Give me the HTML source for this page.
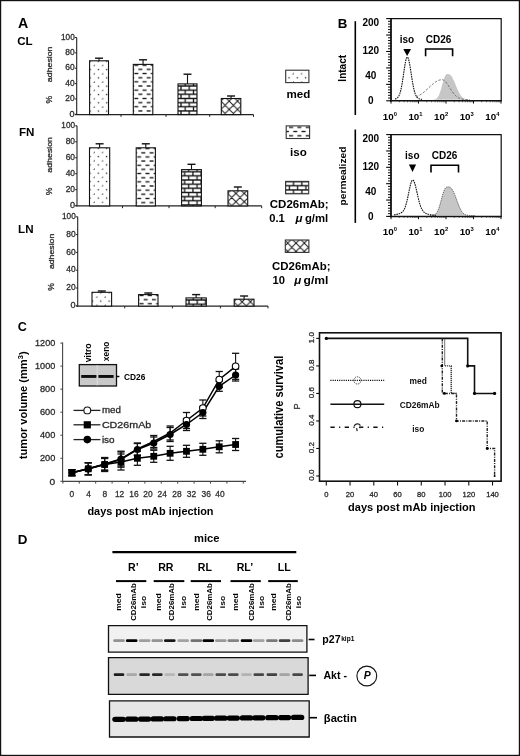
<!DOCTYPE html>
<html><head><meta charset="utf-8"><title>Figure</title><style>
html,body{margin:0;padding:0;background:#fff;width:520px;height:756px;overflow:hidden;}
svg{display:block;filter:blur(0.3px);}
text{font-family:"Liberation Sans", Arial, Helvetica, sans-serif;}
text.r{stroke:#333;stroke-width:0.3px;}
</style></head><body>
<svg width="520" height="756" viewBox="0 0 520 756">
<defs>
<filter id="blur1" x="-20%" y="-100%" width="140%" height="300%"><feGaussianBlur stdDeviation="0.65"/></filter>
<filter id="blur2" x="-10%" y="-10%" width="120%" height="120%"><feGaussianBlur stdDeviation="0.5"/></filter>
</defs>
<rect x="0" y="0" width="520" height="756" fill="#fff"/>
<text x="18" y="27.9" font-size="14.2" font-weight="bold">A</text>
<text x="17.2" y="45.3" font-size="11.6" font-weight="bold">CL</text>
<line x1="76.7" y1="37.5" x2="76.7" y2="114.9" stroke="#222" stroke-width="1.1" />
<line x1="75.2" y1="114.6" x2="253.5" y2="114.6" stroke="#222" stroke-width="1.1" />
<line x1="121" y1="114.6" x2="121" y2="116.9" stroke="#222" stroke-width="1" />
<line x1="166" y1="114.6" x2="166" y2="116.9" stroke="#222" stroke-width="1" />
<line x1="209.7" y1="114.6" x2="209.7" y2="116.9" stroke="#222" stroke-width="1" />
<line x1="253.5" y1="114.6" x2="253.5" y2="116.9" stroke="#222" stroke-width="1" />
<line x1="74.9" y1="114.3" x2="76.7" y2="114.3" stroke="#222" stroke-width="1" />
<text x="74.7" y="116.5" font-size="8.6" class="r" text-anchor="end" fill="#222" textLength="5.07" lengthAdjust="spacingAndGlyphs">0</text>
<line x1="74.9" y1="98.94" x2="76.7" y2="98.94" stroke="#222" stroke-width="1" />
<text x="74.7" y="101.14" font-size="8.6" class="r" text-anchor="end" fill="#222" textLength="9.37" lengthAdjust="spacingAndGlyphs">20</text>
<line x1="74.9" y1="83.58" x2="76.7" y2="83.58" stroke="#222" stroke-width="1" />
<text x="74.7" y="85.78" font-size="8.6" class="r" text-anchor="end" fill="#222" textLength="9.37" lengthAdjust="spacingAndGlyphs">40</text>
<line x1="74.9" y1="68.22" x2="76.7" y2="68.22" stroke="#222" stroke-width="1" />
<text x="74.7" y="70.42" font-size="8.6" class="r" text-anchor="end" fill="#222" textLength="9.37" lengthAdjust="spacingAndGlyphs">60</text>
<line x1="74.9" y1="52.86" x2="76.7" y2="52.86" stroke="#222" stroke-width="1" />
<text x="74.7" y="55.06" font-size="8.6" class="r" text-anchor="end" fill="#222" textLength="9.37" lengthAdjust="spacingAndGlyphs">80</text>
<line x1="74.9" y1="37.5" x2="76.7" y2="37.5" stroke="#222" stroke-width="1" />
<text x="74.7" y="39.7" font-size="8.6" class="r" text-anchor="end" fill="#222" textLength="13.67" lengthAdjust="spacingAndGlyphs">100</text>
<text x="51.6" y="64.3" font-size="7.2" class="r" text-anchor="middle" fill="#222" textLength="35.65" lengthAdjust="spacingAndGlyphs" transform="rotate(-90 51.6 64.3)">adhesion</text>
<text x="51.6" y="99.7" font-size="8.6" class="r" text-anchor="middle" fill="#222" transform="rotate(-90 51.6 99.7)">%</text>
<rect x="89.6" y="60.8" width="18.9" height="53.8" fill="#fff" stroke="none" stroke-width="1" />
<rect x="89.6" y="60.8" width="18.9" height="53.8" fill="url(#p0)" stroke="none" stroke-width="1" />
<rect x="89.6" y="60.8" width="18.9" height="53.8" fill="none" stroke="#111" stroke-width="1.1" />
<line x1="99.05" y1="60.8" x2="99.05" y2="58.2" stroke="#111" stroke-width="1.1" />
<line x1="95.05" y1="58.2" x2="103.05" y2="58.2" stroke="#111" stroke-width="1.4" />
<rect x="133.3" y="64.4" width="19.5" height="50.2" fill="#fff" stroke="none" stroke-width="1" />
<rect x="133.3" y="64.4" width="19.5" height="50.2" fill="url(#p1)" stroke="none" stroke-width="1" />
<rect x="133.3" y="64.4" width="19.5" height="50.2" fill="none" stroke="#111" stroke-width="1.1" />
<line x1="143.05" y1="64.4" x2="143.05" y2="59.8" stroke="#111" stroke-width="1.1" />
<line x1="139.05" y1="59.8" x2="147.05" y2="59.8" stroke="#111" stroke-width="1.4" />
<rect x="178" y="83.9" width="19" height="30.7" fill="#fff" stroke="none" stroke-width="1" />
<rect x="178" y="83.9" width="19" height="30.7" fill="url(#p2)" stroke="none" stroke-width="1" />
<rect x="178" y="83.9" width="19" height="30.7" fill="none" stroke="#111" stroke-width="1.1" />
<line x1="187.5" y1="83.9" x2="187.5" y2="74.2" stroke="#111" stroke-width="1.1" />
<line x1="183.5" y1="74.2" x2="191.5" y2="74.2" stroke="#111" stroke-width="1.4" />
<rect x="221.3" y="98.5" width="19.5" height="16.1" fill="#fff" stroke="none" stroke-width="1" />
<rect x="221.3" y="98.5" width="19.5" height="16.1" fill="url(#p3)" stroke="none" stroke-width="1" />
<rect x="221.3" y="98.5" width="19.5" height="16.1" fill="none" stroke="#111" stroke-width="1.1" />
<line x1="231.05" y1="98.5" x2="231.05" y2="96" stroke="#111" stroke-width="1.1" />
<line x1="227.05" y1="96" x2="235.05" y2="96" stroke="#111" stroke-width="1.4" />
<text x="19" y="135.5" font-size="11.6" font-weight="bold">FN</text>
<line x1="77" y1="125.85" x2="77" y2="206.2" stroke="#222" stroke-width="1.1" />
<line x1="75.5" y1="205.9" x2="261.7" y2="205.9" stroke="#222" stroke-width="1.1" />
<line x1="122.5" y1="205.9" x2="122.5" y2="208.2" stroke="#222" stroke-width="1" />
<line x1="169" y1="205.9" x2="169" y2="208.2" stroke="#222" stroke-width="1" />
<line x1="215.2" y1="205.9" x2="215.2" y2="208.2" stroke="#222" stroke-width="1" />
<line x1="261.7" y1="205.9" x2="261.7" y2="208.2" stroke="#222" stroke-width="1" />
<line x1="75.2" y1="205.6" x2="77" y2="205.6" stroke="#222" stroke-width="1" />
<text x="75" y="207.8" font-size="8.6" class="r" text-anchor="end" fill="#222" textLength="5.07" lengthAdjust="spacingAndGlyphs">0</text>
<line x1="75.2" y1="189.65" x2="77" y2="189.65" stroke="#222" stroke-width="1" />
<text x="75" y="191.85" font-size="8.6" class="r" text-anchor="end" fill="#222" textLength="9.37" lengthAdjust="spacingAndGlyphs">20</text>
<line x1="75.2" y1="173.7" x2="77" y2="173.7" stroke="#222" stroke-width="1" />
<text x="75" y="175.9" font-size="8.6" class="r" text-anchor="end" fill="#222" textLength="9.37" lengthAdjust="spacingAndGlyphs">40</text>
<line x1="75.2" y1="157.75" x2="77" y2="157.75" stroke="#222" stroke-width="1" />
<text x="75" y="159.95" font-size="8.6" class="r" text-anchor="end" fill="#222" textLength="9.37" lengthAdjust="spacingAndGlyphs">60</text>
<line x1="75.2" y1="141.8" x2="77" y2="141.8" stroke="#222" stroke-width="1" />
<text x="75" y="144" font-size="8.6" class="r" text-anchor="end" fill="#222" textLength="9.37" lengthAdjust="spacingAndGlyphs">80</text>
<line x1="75.2" y1="125.85" x2="77" y2="125.85" stroke="#222" stroke-width="1" />
<text x="75" y="128.05" font-size="8.6" class="r" text-anchor="end" fill="#222" textLength="13.67" lengthAdjust="spacingAndGlyphs">100</text>
<text x="51.6" y="154.8" font-size="7.2" class="r" text-anchor="middle" fill="#222" textLength="35.65" lengthAdjust="spacingAndGlyphs" transform="rotate(-90 51.6 154.8)">adhesion</text>
<text x="51.6" y="191.5" font-size="8.6" class="r" text-anchor="middle" fill="#222" transform="rotate(-90 51.6 191.5)">%</text>
<rect x="89.5" y="147.8" width="20.2" height="58.1" fill="#fff" stroke="none" stroke-width="1" />
<rect x="89.5" y="147.8" width="20.2" height="58.1" fill="url(#p4)" stroke="none" stroke-width="1" />
<rect x="89.5" y="147.8" width="20.2" height="58.1" fill="none" stroke="#111" stroke-width="1.1" />
<line x1="99.6" y1="147.8" x2="99.6" y2="143.8" stroke="#111" stroke-width="1.1" />
<line x1="95.6" y1="143.8" x2="103.6" y2="143.8" stroke="#111" stroke-width="1.4" />
<rect x="136.2" y="147.8" width="19.2" height="58.1" fill="#fff" stroke="none" stroke-width="1" />
<rect x="136.2" y="147.8" width="19.2" height="58.1" fill="url(#p5)" stroke="none" stroke-width="1" />
<rect x="136.2" y="147.8" width="19.2" height="58.1" fill="none" stroke="#111" stroke-width="1.1" />
<line x1="145.8" y1="147.8" x2="145.8" y2="143.8" stroke="#111" stroke-width="1.1" />
<line x1="141.8" y1="143.8" x2="149.8" y2="143.8" stroke="#111" stroke-width="1.4" />
<rect x="181.6" y="169.6" width="19.8" height="36.3" fill="#fff" stroke="none" stroke-width="1" />
<rect x="181.6" y="169.6" width="19.8" height="36.3" fill="url(#p6)" stroke="none" stroke-width="1" />
<rect x="181.6" y="169.6" width="19.8" height="36.3" fill="none" stroke="#111" stroke-width="1.1" />
<line x1="191.5" y1="169.6" x2="191.5" y2="164.3" stroke="#111" stroke-width="1.1" />
<line x1="187.5" y1="164.3" x2="195.5" y2="164.3" stroke="#111" stroke-width="1.4" />
<rect x="228" y="190.8" width="19.7" height="15.1" fill="#fff" stroke="none" stroke-width="1" />
<rect x="228" y="190.8" width="19.7" height="15.1" fill="url(#p7)" stroke="none" stroke-width="1" />
<rect x="228" y="190.8" width="19.7" height="15.1" fill="none" stroke="#111" stroke-width="1.1" />
<line x1="237.85" y1="190.8" x2="237.85" y2="187" stroke="#111" stroke-width="1.1" />
<line x1="233.85" y1="187" x2="241.85" y2="187" stroke="#111" stroke-width="1.4" />
<text x="18.1" y="232.8" font-size="11.6" font-weight="bold">LN</text>
<line x1="77.7" y1="216.8" x2="77.7" y2="306.4" stroke="#222" stroke-width="1.1" />
<line x1="76.2" y1="306.1" x2="268" y2="306.1" stroke="#222" stroke-width="1.1" />
<line x1="124.7" y1="306.1" x2="124.7" y2="308.4" stroke="#222" stroke-width="1" />
<line x1="172.4" y1="306.1" x2="172.4" y2="308.4" stroke="#222" stroke-width="1" />
<line x1="220.4" y1="306.1" x2="220.4" y2="308.4" stroke="#222" stroke-width="1" />
<line x1="268" y1="306.1" x2="268" y2="308.4" stroke="#222" stroke-width="1" />
<line x1="75.9" y1="305.8" x2="77.7" y2="305.8" stroke="#222" stroke-width="1" />
<text x="75.7" y="308" font-size="8.6" class="r" text-anchor="end" fill="#222" textLength="5.07" lengthAdjust="spacingAndGlyphs">0</text>
<line x1="75.9" y1="288" x2="77.7" y2="288" stroke="#222" stroke-width="1" />
<text x="75.7" y="290.2" font-size="8.6" class="r" text-anchor="end" fill="#222" textLength="9.37" lengthAdjust="spacingAndGlyphs">20</text>
<line x1="75.9" y1="270.2" x2="77.7" y2="270.2" stroke="#222" stroke-width="1" />
<text x="75.7" y="272.4" font-size="8.6" class="r" text-anchor="end" fill="#222" textLength="9.37" lengthAdjust="spacingAndGlyphs">40</text>
<line x1="75.9" y1="252.4" x2="77.7" y2="252.4" stroke="#222" stroke-width="1" />
<text x="75.7" y="254.6" font-size="8.6" class="r" text-anchor="end" fill="#222" textLength="9.37" lengthAdjust="spacingAndGlyphs">60</text>
<line x1="75.9" y1="234.6" x2="77.7" y2="234.6" stroke="#222" stroke-width="1" />
<text x="75.7" y="236.8" font-size="8.6" class="r" text-anchor="end" fill="#222" textLength="9.37" lengthAdjust="spacingAndGlyphs">80</text>
<line x1="75.9" y1="216.8" x2="77.7" y2="216.8" stroke="#222" stroke-width="1" />
<text x="75.7" y="219" font-size="8.6" class="r" text-anchor="end" fill="#222" textLength="13.67" lengthAdjust="spacingAndGlyphs">100</text>
<text x="53.9" y="251.4" font-size="7.8" class="r" text-anchor="middle" fill="#222" textLength="35.3" lengthAdjust="spacingAndGlyphs" transform="rotate(-90 53.9 251.4)">adhesion</text>
<text x="53.9" y="286.8" font-size="8.6" class="r" text-anchor="middle" fill="#222" transform="rotate(-90 53.9 286.8)">%</text>
<rect x="92" y="292.3" width="19.6" height="13.8" fill="#fff" stroke="none" stroke-width="1" />
<rect x="92" y="292.3" width="19.6" height="13.8" fill="url(#p8)" stroke="none" stroke-width="1" />
<rect x="92" y="292.3" width="19.6" height="13.8" fill="none" stroke="#111" stroke-width="1.1" />
<line x1="101.8" y1="292.3" x2="101.8" y2="291" stroke="#111" stroke-width="1.1" />
<line x1="97.8" y1="291" x2="105.8" y2="291" stroke="#111" stroke-width="1.4" />
<rect x="138.6" y="294.6" width="19.4" height="11.5" fill="#fff" stroke="none" stroke-width="1" />
<rect x="138.6" y="294.6" width="19.4" height="11.5" fill="url(#p9)" stroke="none" stroke-width="1" />
<rect x="138.6" y="294.6" width="19.4" height="11.5" fill="none" stroke="#111" stroke-width="1.1" />
<line x1="148.3" y1="294.6" x2="148.3" y2="293" stroke="#111" stroke-width="1.1" />
<line x1="144.3" y1="293" x2="152.3" y2="293" stroke="#111" stroke-width="1.4" />
<rect x="186" y="297.9" width="20.3" height="8.2" fill="#fff" stroke="none" stroke-width="1" />
<rect x="186" y="297.9" width="20.3" height="8.2" fill="url(#p10)" stroke="none" stroke-width="1" />
<rect x="186" y="297.9" width="20.3" height="8.2" fill="none" stroke="#111" stroke-width="1.1" />
<line x1="196.15" y1="297.9" x2="196.15" y2="294.6" stroke="#111" stroke-width="1.1" />
<line x1="192.15" y1="294.6" x2="200.15" y2="294.6" stroke="#111" stroke-width="1.4" />
<rect x="234.2" y="299.2" width="19.8" height="6.9" fill="#fff" stroke="none" stroke-width="1" />
<rect x="234.2" y="299.2" width="19.8" height="6.9" fill="url(#p11)" stroke="none" stroke-width="1" />
<rect x="234.2" y="299.2" width="19.8" height="6.9" fill="none" stroke="#111" stroke-width="1.1" />
<line x1="244.1" y1="299.2" x2="244.1" y2="296" stroke="#111" stroke-width="1.1" />
<line x1="240.1" y1="296" x2="248.1" y2="296" stroke="#111" stroke-width="1.4" />
<rect x="285.7" y="70.2" width="23.2" height="12.4" fill="#fff" stroke="none" stroke-width="1" />
<rect x="285.7" y="70.2" width="23.2" height="12.4" fill="url(#p12)" stroke="none" stroke-width="1" />
<rect x="285.7" y="70.2" width="23.2" height="12.4" fill="none" stroke="#333" stroke-width="1.1" />
<rect x="286.2" y="125.9" width="23.4" height="12.6" fill="#fff" stroke="none" stroke-width="1" />
<rect x="286.2" y="125.9" width="23.4" height="12.6" fill="url(#p13)" stroke="none" stroke-width="1" />
<rect x="286.2" y="125.9" width="23.4" height="12.6" fill="none" stroke="#333" stroke-width="1.1" />
<rect x="285.6" y="181.4" width="23.1" height="12.4" fill="#fff" stroke="none" stroke-width="1" />
<rect x="285.6" y="181.4" width="23.1" height="12.4" fill="url(#p14)" stroke="none" stroke-width="1" />
<rect x="285.6" y="181.4" width="23.1" height="12.4" fill="none" stroke="#333" stroke-width="1.1" />
<rect x="285.3" y="240" width="23.6" height="12.4" fill="#fff" stroke="none" stroke-width="1" />
<rect x="285.3" y="240" width="23.6" height="12.4" fill="url(#p15)" stroke="none" stroke-width="1" />
<rect x="285.3" y="240" width="23.6" height="12.4" fill="none" stroke="#333" stroke-width="1.1" />
<text x="298.4" y="97.9" font-size="11.6" font-weight="bold" text-anchor="middle">med</text>
<text x="298.5" y="155.8" font-size="11.6" font-weight="bold" text-anchor="middle">iso</text>
<text x="269.8" y="208" font-size="11.2" font-weight="bold" textLength="58.81" lengthAdjust="spacingAndGlyphs">CD26mAb;</text>
<text x="269.2" y="221.5" font-size="11.2" font-weight="bold">0.1</text>
<text x="295.6" y="221.5" font-size="11.6" font-weight="bold" font-style="italic">μ</text>
<text x="304.9" y="221.5" font-size="11.2" font-weight="bold" textLength="23.31" lengthAdjust="spacingAndGlyphs">g/ml</text>
<text x="272.1" y="270" font-size="11.2" font-weight="bold" textLength="58.41" lengthAdjust="spacingAndGlyphs">CD26mAb;</text>
<text x="272.6" y="283.5" font-size="11.2" font-weight="bold">10</text>
<text x="294.3" y="283.5" font-size="11.6" font-weight="bold" font-style="italic">μ</text>
<text x="303.6" y="283.5" font-size="11.2" font-weight="bold" textLength="24.81" lengthAdjust="spacingAndGlyphs">g/ml</text>
<text x="337.7" y="27.5" font-size="13.3" font-weight="bold">B</text>
<path d="M430,99.7 L430,99.7 L430.5,99.7 L431,99.69 L431.5,99.69 L432,99.68 L432.5,99.66 L433,99.64 L433.5,99.6 L434,99.53 L434.5,99.44 L435,99.31 L435.5,99.13 L436,98.88 L436.5,98.54 L437,98.1 L437.5,97.53 L438,96.81 L438.5,95.94 L439,94.91 L439.5,93.7 L440,92.32 L440.5,90.8 L441,89.14 L441.5,87.39 L442,85.59 L442.5,83.78 L443,82.02 L443.5,80.35 L444,78.82 L444.5,77.47 L445,76.33 L445.5,75.42 L446,74.75 L446.5,74.31 L447,74.07 L447.5,74 L448,74.01 L448.5,74.07 L449,74.21 L449.5,74.44 L450,74.76 L450.5,75.19 L451,75.73 L451.5,76.37 L452,77.11 L452.5,77.96 L453,78.89 L453.5,79.91 L454,80.99 L454.5,82.13 L455,83.31 L455.5,84.51 L456,85.73 L456.5,86.94 L457,88.14 L457.5,89.3 L458,90.41 L458.5,91.47 L459,92.47 L459.5,93.4 L460,94.26 L460.5,95.04 L461,95.74 L461.5,96.36 L462,96.92 L462.5,97.4 L463,97.81 L463.5,98.17 L464,98.47 L464.5,98.72 L465,98.92 L465.5,99.09 L466,99.23 L466.5,99.34 L467,99.43 L467.5,99.49 L468,99.55 L468.5,99.59 L469,99.62 L469.5,99.64 L470,99.66 L470.5,99.67 L471,99.68 L471.5,99.69 L472,99.69 L472.5,99.69 L473,99.7 L473.5,99.7 L474,99.7 L474.5,99.7 L475,99.7 L475,99.7 Z" fill="#c6c6c6" stroke="none"/>
<polyline points="416,96.99 416.6,96.73 417.2,96.46 417.8,96.16 418.4,95.85 419,95.52 419.6,95.17 420.2,94.8 420.8,94.41 421.4,94 422,93.58 422.6,93.13 423.2,92.67 423.8,92.19 424.4,91.7 425,91.19 425.6,90.68 426.2,90.14 426.8,89.6 427.4,89.06 428,88.5 428.6,87.94 429.2,87.38 429.8,86.82 430.4,86.27 431,85.72 431.6,85.18 432.2,84.65 432.8,84.13 433.4,83.63 434,83.15 434.6,82.69 435.2,82.26 435.8,81.85 436.4,81.47 437,81.13 437.6,80.81 438.2,80.54 438.8,80.3 439.4,80.1 440,79.94 440.6,79.82 441.2,79.74 441.8,79.7 442.4,79.73 443,79.87 443.6,80.14 444.2,80.52 444.8,81.01 445.4,81.6 446,82.29 446.6,83.05 447.2,83.87 447.8,84.75 448.4,85.67 449,86.61 449.6,87.57 450.2,88.53 450.8,89.47 451.4,90.39 452,91.28 452.6,92.14 453.2,92.95 453.8,93.71 454.4,94.42 455,95.07 455.6,95.67 456.2,96.21 456.8,96.7 457.4,97.13 458,97.52 458.6,97.86 459.2,98.16 459.8,98.41 460.4,98.63 461,98.82 461.6,98.98 462.2,99.12 462.8,99.23 463.4,99.32 464,99.4 464.6,99.46 465.2,99.51 465.8,99.55 466.4,99.58 467,99.61 467.6,99.63 468.2,99.65 468.8,99.66 469.4,99.67 470,99.68" fill="none" stroke="#666" stroke-width="1" stroke-dasharray="2.4,1.6"/>
<polyline points="395,99.04 395.3,98.96 395.6,98.86 395.9,98.76 396.2,98.63 396.5,98.48 396.8,98.3 397.1,98.09 397.4,97.85 397.7,97.56 398,97.22 398.3,96.82 398.6,96.36 398.9,95.82 399.2,95.21 399.5,94.5 399.8,93.69 400.1,92.77 400.4,91.75 400.7,90.6 401,89.34 401.3,87.94 401.6,86.43 401.9,84.8 402.2,83.06 402.5,81.22 402.8,79.29 403.1,77.29 403.4,75.24 403.7,73.17 404,71.11 404.3,69.07 404.6,67.1 404.9,65.23 405.2,63.48 405.5,61.89 405.8,60.49 406.1,59.3 406.4,58.35 406.7,57.66 407,57.24 407.3,57.1 407.6,57.23 407.9,57.61 408.2,58.23 408.5,59.08 408.8,60.16 409.1,61.43 409.4,62.88 409.7,64.49 410,66.22 410.3,68.05 410.6,69.95 410.9,71.9 411.2,73.86 411.5,75.82 411.8,77.76 412.1,79.65 412.4,81.47 412.7,83.21 413,84.86 413.3,86.42 413.6,87.86 413.9,89.2 414.2,90.43 414.5,91.54 414.8,92.55 415.1,93.45 415.4,94.26 415.7,94.98 416,95.61 416.3,96.16 416.6,96.64 416.9,97.06 417.2,97.41 417.5,97.72 417.8,97.99 418.1,98.22 418.4,98.41 418.7,98.58 419,98.72 419.3,98.84 419.6,98.94 419.9,99.03 420.2,99.11 420.5,99.17 420.8,99.23 421.1,99.28 421.4,99.32 421.7,99.36 422,99.4" fill="none" stroke="#111" stroke-width="1.1" stroke-dasharray="1.6,0.8"/>
<path d="M391,18.6 H501.2 V100.8" fill="none" stroke="#111" stroke-width="1.2"/>
<line x1="391" y1="18" x2="391" y2="101.6" stroke="#111" stroke-width="1.8" />
<line x1="390.1" y1="100.8" x2="501.8" y2="100.8" stroke="#111" stroke-width="1.5" />
<line x1="386.2" y1="100.8" x2="391" y2="100.8" stroke="#000" stroke-width="1.1" />
<line x1="388" y1="98.06" x2="391" y2="98.06" stroke="#111" stroke-width="1" />
<line x1="388" y1="95.32" x2="391" y2="95.32" stroke="#111" stroke-width="1" />
<line x1="388" y1="92.58" x2="391" y2="92.58" stroke="#111" stroke-width="1" />
<line x1="388" y1="89.84" x2="391" y2="89.84" stroke="#111" stroke-width="1" />
<line x1="388" y1="87.1" x2="391" y2="87.1" stroke="#111" stroke-width="1" />
<line x1="386.2" y1="84.36" x2="391" y2="84.36" stroke="#000" stroke-width="1.1" />
<line x1="388" y1="81.62" x2="391" y2="81.62" stroke="#111" stroke-width="1" />
<line x1="388" y1="78.88" x2="391" y2="78.88" stroke="#111" stroke-width="1" />
<line x1="388" y1="76.14" x2="391" y2="76.14" stroke="#111" stroke-width="1" />
<line x1="388" y1="73.4" x2="391" y2="73.4" stroke="#111" stroke-width="1" />
<line x1="388" y1="70.66" x2="391" y2="70.66" stroke="#111" stroke-width="1" />
<line x1="386.2" y1="67.92" x2="391" y2="67.92" stroke="#000" stroke-width="1.1" />
<line x1="388" y1="65.18" x2="391" y2="65.18" stroke="#111" stroke-width="1" />
<line x1="388" y1="62.44" x2="391" y2="62.44" stroke="#111" stroke-width="1" />
<line x1="388" y1="59.7" x2="391" y2="59.7" stroke="#111" stroke-width="1" />
<line x1="388" y1="56.96" x2="391" y2="56.96" stroke="#111" stroke-width="1" />
<line x1="388" y1="54.22" x2="391" y2="54.22" stroke="#111" stroke-width="1" />
<line x1="386.2" y1="51.48" x2="391" y2="51.48" stroke="#000" stroke-width="1.1" />
<line x1="388" y1="48.74" x2="391" y2="48.74" stroke="#111" stroke-width="1" />
<line x1="388" y1="46" x2="391" y2="46" stroke="#111" stroke-width="1" />
<line x1="388" y1="43.26" x2="391" y2="43.26" stroke="#111" stroke-width="1" />
<line x1="388" y1="40.52" x2="391" y2="40.52" stroke="#111" stroke-width="1" />
<line x1="388" y1="37.78" x2="391" y2="37.78" stroke="#111" stroke-width="1" />
<line x1="386.2" y1="35.04" x2="391" y2="35.04" stroke="#000" stroke-width="1.1" />
<line x1="388" y1="32.3" x2="391" y2="32.3" stroke="#111" stroke-width="1" />
<line x1="388" y1="29.56" x2="391" y2="29.56" stroke="#111" stroke-width="1" />
<line x1="388" y1="26.82" x2="391" y2="26.82" stroke="#111" stroke-width="1" />
<line x1="388" y1="24.08" x2="391" y2="24.08" stroke="#111" stroke-width="1" />
<line x1="388" y1="21.34" x2="391" y2="21.34" stroke="#111" stroke-width="1" />
<line x1="386.2" y1="18.6" x2="391" y2="18.6" stroke="#000" stroke-width="1.1" />
<line x1="399.28" y1="100.8" x2="399.28" y2="102.3" stroke="#222" stroke-width="0.7" />
<line x1="404.12" y1="100.8" x2="404.12" y2="102.3" stroke="#222" stroke-width="0.7" />
<line x1="407.56" y1="100.8" x2="407.56" y2="102.3" stroke="#222" stroke-width="0.7" />
<line x1="410.22" y1="100.8" x2="410.22" y2="102.3" stroke="#222" stroke-width="0.7" />
<line x1="412.4" y1="100.8" x2="412.4" y2="102.3" stroke="#222" stroke-width="0.7" />
<line x1="414.24" y1="100.8" x2="414.24" y2="102.3" stroke="#222" stroke-width="0.7" />
<line x1="415.83" y1="100.8" x2="415.83" y2="102.3" stroke="#222" stroke-width="0.7" />
<line x1="417.24" y1="100.8" x2="417.24" y2="102.3" stroke="#222" stroke-width="0.7" />
<line x1="426.78" y1="100.8" x2="426.78" y2="102.3" stroke="#222" stroke-width="0.7" />
<line x1="431.62" y1="100.8" x2="431.62" y2="102.3" stroke="#222" stroke-width="0.7" />
<line x1="435.06" y1="100.8" x2="435.06" y2="102.3" stroke="#222" stroke-width="0.7" />
<line x1="437.72" y1="100.8" x2="437.72" y2="102.3" stroke="#222" stroke-width="0.7" />
<line x1="439.9" y1="100.8" x2="439.9" y2="102.3" stroke="#222" stroke-width="0.7" />
<line x1="441.74" y1="100.8" x2="441.74" y2="102.3" stroke="#222" stroke-width="0.7" />
<line x1="443.33" y1="100.8" x2="443.33" y2="102.3" stroke="#222" stroke-width="0.7" />
<line x1="444.74" y1="100.8" x2="444.74" y2="102.3" stroke="#222" stroke-width="0.7" />
<line x1="454.28" y1="100.8" x2="454.28" y2="102.3" stroke="#222" stroke-width="0.7" />
<line x1="459.12" y1="100.8" x2="459.12" y2="102.3" stroke="#222" stroke-width="0.7" />
<line x1="462.56" y1="100.8" x2="462.56" y2="102.3" stroke="#222" stroke-width="0.7" />
<line x1="465.22" y1="100.8" x2="465.22" y2="102.3" stroke="#222" stroke-width="0.7" />
<line x1="467.4" y1="100.8" x2="467.4" y2="102.3" stroke="#222" stroke-width="0.7" />
<line x1="469.24" y1="100.8" x2="469.24" y2="102.3" stroke="#222" stroke-width="0.7" />
<line x1="470.83" y1="100.8" x2="470.83" y2="102.3" stroke="#222" stroke-width="0.7" />
<line x1="472.24" y1="100.8" x2="472.24" y2="102.3" stroke="#222" stroke-width="0.7" />
<line x1="481.78" y1="100.8" x2="481.78" y2="102.3" stroke="#222" stroke-width="0.7" />
<line x1="486.62" y1="100.8" x2="486.62" y2="102.3" stroke="#222" stroke-width="0.7" />
<line x1="490.06" y1="100.8" x2="490.06" y2="102.3" stroke="#222" stroke-width="0.7" />
<line x1="492.72" y1="100.8" x2="492.72" y2="102.3" stroke="#222" stroke-width="0.7" />
<line x1="494.9" y1="100.8" x2="494.9" y2="102.3" stroke="#222" stroke-width="0.7" />
<line x1="496.74" y1="100.8" x2="496.74" y2="102.3" stroke="#222" stroke-width="0.7" />
<line x1="498.33" y1="100.8" x2="498.33" y2="102.3" stroke="#222" stroke-width="0.7" />
<line x1="499.74" y1="100.8" x2="499.74" y2="102.3" stroke="#222" stroke-width="0.7" />
<line x1="391" y1="100.8" x2="391" y2="103.6" stroke="#111" stroke-width="1" />
<line x1="418.5" y1="100.8" x2="418.5" y2="103.6" stroke="#111" stroke-width="1" />
<line x1="446" y1="100.8" x2="446" y2="103.6" stroke="#111" stroke-width="1" />
<line x1="473.5" y1="100.8" x2="473.5" y2="103.6" stroke="#111" stroke-width="1" />
<line x1="501" y1="100.8" x2="501" y2="103.6" stroke="#111" stroke-width="1" />
<text x="407" y="43.2" font-size="10" font-weight="bold" text-anchor="middle">iso</text>
<polygon points="403.3,49 411.1,49 407.1,55.9" fill="#000"/>
<text x="438.6" y="42.9" font-size="10" font-weight="bold" text-anchor="middle">CD26</text>
<polyline points="425.6,56.3 425.6,49 452.6,49 452.6,56.3" fill="none" stroke="#000" stroke-width="1.6" />
<path d="M430,215.5 L430,215.49 L430.5,215.49 L431,215.48 L431.5,215.46 L432,215.43 L432.5,215.39 L433,215.32 L433.5,215.23 L434,215.09 L434.5,214.89 L435,214.62 L435.5,214.26 L436,213.8 L436.5,213.2 L437,212.46 L437.5,211.55 L438,210.48 L438.5,209.24 L439,207.82 L439.5,206.26 L440,204.56 L440.5,202.77 L441,200.91 L441.5,199.03 L442,197.17 L442.5,195.39 L443,193.71 L443.5,192.19 L444,190.84 L444.5,189.69 L445,188.75 L445.5,188.03 L446,187.5 L446.5,187.16 L447,186.97 L447.5,186.91 L448,186.9 L448.5,186.92 L449,187 L449.5,187.14 L450,187.36 L450.5,187.68 L451,188.1 L451.5,188.63 L452,189.28 L452.5,190.04 L453,190.92 L453.5,191.9 L454,192.98 L454.5,194.16 L455,195.4 L455.5,196.71 L456,198.06 L456.5,199.44 L457,200.83 L457.5,202.2 L458,203.55 L458.5,204.86 L459,206.1 L459.5,207.28 L460,208.38 L460.5,209.39 L461,210.31 L461.5,211.13 L462,211.87 L462.5,212.51 L463,213.06 L463.5,213.54 L464,213.94 L464.5,214.27 L465,214.54 L465.5,214.76 L466,214.94 L466.5,215.08 L467,215.19 L467.5,215.27 L468,215.34 L468.5,215.38 L469,215.42 L469.5,215.44 L470,215.46 L470.5,215.47 L471,215.48 L471.5,215.49 L472,215.49 L472.5,215.5 L473,215.5 L473.5,215.5 L474,215.5 L474.5,215.5 L475,215.5 L475,215.5 Z" fill="#c6c6c6" stroke="none"/>
<polyline points="430,215.49 430.5,215.49 431,215.48 431.5,215.46 432,215.43 432.5,215.39 433,215.32 433.5,215.23 434,215.09 434.5,214.89 435,214.62 435.5,214.26 436,213.8 436.5,213.2 437,212.46 437.5,211.55 438,210.48 438.5,209.24 439,207.82 439.5,206.26 440,204.56 440.5,202.77 441,200.91 441.5,199.03 442,197.17 442.5,195.39 443,193.71 443.5,192.19 444,190.84 444.5,189.69 445,188.75 445.5,188.03 446,187.5 446.5,187.16 447,186.97 447.5,186.91 448,186.9 448.5,186.92 449,187 449.5,187.14 450,187.36 450.5,187.68 451,188.1 451.5,188.63 452,189.28 452.5,190.04 453,190.92 453.5,191.9 454,192.98 454.5,194.16 455,195.4 455.5,196.71 456,198.06 456.5,199.44 457,200.83 457.5,202.2 458,203.55 458.5,204.86 459,206.1 459.5,207.28 460,208.38 460.5,209.39 461,210.31 461.5,211.13 462,211.87 462.5,212.51 463,213.06 463.5,213.54 464,213.94 464.5,214.27 465,214.54 465.5,214.76 466,214.94 466.5,215.08 467,215.19 467.5,215.27 468,215.34 468.5,215.38 469,215.42 469.5,215.44 470,215.46 470.5,215.47 471,215.48 471.5,215.49 472,215.49 472.5,215.5 473,215.5 473.5,215.5 474,215.5 474.5,215.5 475,215.5" fill="none" stroke="#444" stroke-width="0.9" stroke-dasharray="1.2,1"/>
<polyline points="394,214.88 394.47,214.82 394.93,214.74 395.4,214.66 395.87,214.57 396.33,214.48 396.8,214.37 397.27,214.26 397.73,214.14 398.2,214.02 398.67,213.87 399.13,213.72 399.6,213.55 400.07,213.35 400.53,213.13 401,212.88 401.47,212.58 401.93,212.23 402.4,211.81 402.87,211.31 403.33,210.71 403.8,210 404.27,209.15 404.73,208.16 405.2,206.99 405.67,205.64 406.13,204.11 406.6,202.39 407.07,200.49 407.53,198.44 408,196.26 408.47,193.99 408.93,191.69 409.4,189.43 409.87,187.26 410.33,185.26 410.8,183.49 411.27,182.04 411.73,180.94 412.2,180.26 412.67,180 413.13,180.16 413.6,180.68 414.07,181.55 414.53,182.73 415,184.19 415.47,185.89 415.93,187.76 416.4,189.77 416.87,191.85 417.33,193.95 417.8,196.03 418.27,198.05 418.73,199.97 419.2,201.77 419.67,203.43 420.13,204.94 420.6,206.3 421.07,207.5 421.53,208.55 422,209.47 422.47,210.26 422.93,210.93 423.4,211.51 423.87,212 424.33,212.41 424.8,212.77 425.27,213.07 425.73,213.33 426.2,213.55 426.67,213.75 427.13,213.92 427.6,214.07 428.07,214.21 428.53,214.33 429,214.44 429.47,214.55 429.93,214.64 430.4,214.72 430.87,214.8 431.33,214.87 431.8,214.94 432.27,215 432.73,215.05 433.2,215.1 433.67,215.15 434.13,215.19 434.6,215.22 435.07,215.26 435.53,215.29 436,215.31" fill="none" stroke="#111" stroke-width="1.1" stroke-dasharray="1.6,0.8"/>
<path d="M391,134.6 H501.2 V216.4" fill="none" stroke="#111" stroke-width="1.2"/>
<line x1="391" y1="134" x2="391" y2="217.2" stroke="#111" stroke-width="1.8" />
<line x1="390.1" y1="216.4" x2="501.8" y2="216.4" stroke="#111" stroke-width="1.5" />
<line x1="386.2" y1="216.4" x2="391" y2="216.4" stroke="#000" stroke-width="1.1" />
<line x1="388" y1="213.67" x2="391" y2="213.67" stroke="#111" stroke-width="1" />
<line x1="388" y1="210.95" x2="391" y2="210.95" stroke="#111" stroke-width="1" />
<line x1="388" y1="208.22" x2="391" y2="208.22" stroke="#111" stroke-width="1" />
<line x1="388" y1="205.49" x2="391" y2="205.49" stroke="#111" stroke-width="1" />
<line x1="388" y1="202.77" x2="391" y2="202.77" stroke="#111" stroke-width="1" />
<line x1="386.2" y1="200.04" x2="391" y2="200.04" stroke="#000" stroke-width="1.1" />
<line x1="388" y1="197.31" x2="391" y2="197.31" stroke="#111" stroke-width="1" />
<line x1="388" y1="194.59" x2="391" y2="194.59" stroke="#111" stroke-width="1" />
<line x1="388" y1="191.86" x2="391" y2="191.86" stroke="#111" stroke-width="1" />
<line x1="388" y1="189.13" x2="391" y2="189.13" stroke="#111" stroke-width="1" />
<line x1="388" y1="186.41" x2="391" y2="186.41" stroke="#111" stroke-width="1" />
<line x1="386.2" y1="183.68" x2="391" y2="183.68" stroke="#000" stroke-width="1.1" />
<line x1="388" y1="180.95" x2="391" y2="180.95" stroke="#111" stroke-width="1" />
<line x1="388" y1="178.23" x2="391" y2="178.23" stroke="#111" stroke-width="1" />
<line x1="388" y1="175.5" x2="391" y2="175.5" stroke="#111" stroke-width="1" />
<line x1="388" y1="172.77" x2="391" y2="172.77" stroke="#111" stroke-width="1" />
<line x1="388" y1="170.05" x2="391" y2="170.05" stroke="#111" stroke-width="1" />
<line x1="386.2" y1="167.32" x2="391" y2="167.32" stroke="#000" stroke-width="1.1" />
<line x1="388" y1="164.59" x2="391" y2="164.59" stroke="#111" stroke-width="1" />
<line x1="388" y1="161.87" x2="391" y2="161.87" stroke="#111" stroke-width="1" />
<line x1="388" y1="159.14" x2="391" y2="159.14" stroke="#111" stroke-width="1" />
<line x1="388" y1="156.41" x2="391" y2="156.41" stroke="#111" stroke-width="1" />
<line x1="388" y1="153.69" x2="391" y2="153.69" stroke="#111" stroke-width="1" />
<line x1="386.2" y1="150.96" x2="391" y2="150.96" stroke="#000" stroke-width="1.1" />
<line x1="388" y1="148.23" x2="391" y2="148.23" stroke="#111" stroke-width="1" />
<line x1="388" y1="145.51" x2="391" y2="145.51" stroke="#111" stroke-width="1" />
<line x1="388" y1="142.78" x2="391" y2="142.78" stroke="#111" stroke-width="1" />
<line x1="388" y1="140.05" x2="391" y2="140.05" stroke="#111" stroke-width="1" />
<line x1="388" y1="137.33" x2="391" y2="137.33" stroke="#111" stroke-width="1" />
<line x1="386.2" y1="134.6" x2="391" y2="134.6" stroke="#000" stroke-width="1.1" />
<line x1="399.28" y1="216.4" x2="399.28" y2="217.9" stroke="#222" stroke-width="0.7" />
<line x1="404.12" y1="216.4" x2="404.12" y2="217.9" stroke="#222" stroke-width="0.7" />
<line x1="407.56" y1="216.4" x2="407.56" y2="217.9" stroke="#222" stroke-width="0.7" />
<line x1="410.22" y1="216.4" x2="410.22" y2="217.9" stroke="#222" stroke-width="0.7" />
<line x1="412.4" y1="216.4" x2="412.4" y2="217.9" stroke="#222" stroke-width="0.7" />
<line x1="414.24" y1="216.4" x2="414.24" y2="217.9" stroke="#222" stroke-width="0.7" />
<line x1="415.83" y1="216.4" x2="415.83" y2="217.9" stroke="#222" stroke-width="0.7" />
<line x1="417.24" y1="216.4" x2="417.24" y2="217.9" stroke="#222" stroke-width="0.7" />
<line x1="426.78" y1="216.4" x2="426.78" y2="217.9" stroke="#222" stroke-width="0.7" />
<line x1="431.62" y1="216.4" x2="431.62" y2="217.9" stroke="#222" stroke-width="0.7" />
<line x1="435.06" y1="216.4" x2="435.06" y2="217.9" stroke="#222" stroke-width="0.7" />
<line x1="437.72" y1="216.4" x2="437.72" y2="217.9" stroke="#222" stroke-width="0.7" />
<line x1="439.9" y1="216.4" x2="439.9" y2="217.9" stroke="#222" stroke-width="0.7" />
<line x1="441.74" y1="216.4" x2="441.74" y2="217.9" stroke="#222" stroke-width="0.7" />
<line x1="443.33" y1="216.4" x2="443.33" y2="217.9" stroke="#222" stroke-width="0.7" />
<line x1="444.74" y1="216.4" x2="444.74" y2="217.9" stroke="#222" stroke-width="0.7" />
<line x1="454.28" y1="216.4" x2="454.28" y2="217.9" stroke="#222" stroke-width="0.7" />
<line x1="459.12" y1="216.4" x2="459.12" y2="217.9" stroke="#222" stroke-width="0.7" />
<line x1="462.56" y1="216.4" x2="462.56" y2="217.9" stroke="#222" stroke-width="0.7" />
<line x1="465.22" y1="216.4" x2="465.22" y2="217.9" stroke="#222" stroke-width="0.7" />
<line x1="467.4" y1="216.4" x2="467.4" y2="217.9" stroke="#222" stroke-width="0.7" />
<line x1="469.24" y1="216.4" x2="469.24" y2="217.9" stroke="#222" stroke-width="0.7" />
<line x1="470.83" y1="216.4" x2="470.83" y2="217.9" stroke="#222" stroke-width="0.7" />
<line x1="472.24" y1="216.4" x2="472.24" y2="217.9" stroke="#222" stroke-width="0.7" />
<line x1="481.78" y1="216.4" x2="481.78" y2="217.9" stroke="#222" stroke-width="0.7" />
<line x1="486.62" y1="216.4" x2="486.62" y2="217.9" stroke="#222" stroke-width="0.7" />
<line x1="490.06" y1="216.4" x2="490.06" y2="217.9" stroke="#222" stroke-width="0.7" />
<line x1="492.72" y1="216.4" x2="492.72" y2="217.9" stroke="#222" stroke-width="0.7" />
<line x1="494.9" y1="216.4" x2="494.9" y2="217.9" stroke="#222" stroke-width="0.7" />
<line x1="496.74" y1="216.4" x2="496.74" y2="217.9" stroke="#222" stroke-width="0.7" />
<line x1="498.33" y1="216.4" x2="498.33" y2="217.9" stroke="#222" stroke-width="0.7" />
<line x1="499.74" y1="216.4" x2="499.74" y2="217.9" stroke="#222" stroke-width="0.7" />
<line x1="391" y1="216.4" x2="391" y2="219.2" stroke="#111" stroke-width="1" />
<line x1="418.5" y1="216.4" x2="418.5" y2="219.2" stroke="#111" stroke-width="1" />
<line x1="446" y1="216.4" x2="446" y2="219.2" stroke="#111" stroke-width="1" />
<line x1="473.5" y1="216.4" x2="473.5" y2="219.2" stroke="#111" stroke-width="1" />
<line x1="501" y1="216.4" x2="501" y2="219.2" stroke="#111" stroke-width="1" />
<text x="412.3" y="159.3" font-size="10" font-weight="bold" text-anchor="middle">iso</text>
<polygon points="408.9,164.6 416.1,164.6 412.5,172" fill="#000"/>
<text x="444.5" y="159.3" font-size="10" font-weight="bold" text-anchor="middle">CD26</text>
<polyline points="431,172.4 431,165.2 458.5,165.2 458.5,172.4" fill="none" stroke="#000" stroke-width="1.6" />
<text x="370.8" y="25.8" font-size="10" font-weight="bold" text-anchor="middle">200</text>
<text x="370.8" y="54" font-size="10" font-weight="bold" text-anchor="middle">120</text>
<text x="370.8" y="78.8" font-size="10" font-weight="bold" text-anchor="middle">40</text>
<text x="370.8" y="103.8" font-size="10" font-weight="bold" text-anchor="middle">0</text>
<text x="370.8" y="141.6" font-size="10" font-weight="bold" text-anchor="middle">200</text>
<text x="370.8" y="169.8" font-size="10" font-weight="bold" text-anchor="middle">120</text>
<text x="370.8" y="194.6" font-size="10" font-weight="bold" text-anchor="middle">40</text>
<text x="370.8" y="219.6" font-size="10" font-weight="bold" text-anchor="middle">0</text>
<text x="389.8" y="119.8" font-size="9.8" font-weight="bold" text-anchor="middle">10<tspan font-size="5.8" dy="-3.4">0</tspan></text>
<text x="415.45" y="119.8" font-size="9.8" font-weight="bold" text-anchor="middle">10<tspan font-size="5.8" dy="-3.4">1</tspan></text>
<text x="441.1" y="119.8" font-size="9.8" font-weight="bold" text-anchor="middle">10<tspan font-size="5.8" dy="-3.4">2</tspan></text>
<text x="466.75" y="119.8" font-size="9.8" font-weight="bold" text-anchor="middle">10<tspan font-size="5.8" dy="-3.4">3</tspan></text>
<text x="492.4" y="119.8" font-size="9.8" font-weight="bold" text-anchor="middle">10<tspan font-size="5.8" dy="-3.4">4</tspan></text>
<text x="389.8" y="234.8" font-size="9.8" font-weight="bold" text-anchor="middle">10<tspan font-size="5.8" dy="-3.4">0</tspan></text>
<text x="415.45" y="234.8" font-size="9.8" font-weight="bold" text-anchor="middle">10<tspan font-size="5.8" dy="-3.4">1</tspan></text>
<text x="441.1" y="234.8" font-size="9.8" font-weight="bold" text-anchor="middle">10<tspan font-size="5.8" dy="-3.4">2</tspan></text>
<text x="466.75" y="234.8" font-size="9.8" font-weight="bold" text-anchor="middle">10<tspan font-size="5.8" dy="-3.4">3</tspan></text>
<text x="492.4" y="234.8" font-size="9.8" font-weight="bold" text-anchor="middle">10<tspan font-size="5.8" dy="-3.4">4</tspan></text>
<line x1="355.3" y1="21.2" x2="355.3" y2="115" stroke="#000" stroke-width="1.6" />
<line x1="355.3" y1="129.5" x2="355.3" y2="222.9" stroke="#000" stroke-width="1.6" />
<text x="346.2" y="68.3" font-size="10" font-weight="bold" text-anchor="middle" transform="rotate(-90 346.2 68.3)">Intact</text>
<text x="346.2" y="176" font-size="9.6" font-weight="bold" text-anchor="middle" textLength="58.86" lengthAdjust="spacingAndGlyphs" transform="rotate(-90 346.2 176)">permealized</text>
<text x="17.8" y="331.4" font-size="12.6" font-weight="bold">C</text>
<line x1="62.6" y1="342.5" x2="62.6" y2="481.5" stroke="#444" stroke-width="1.1" />
<line x1="62.6" y1="481.4" x2="246" y2="481.4" stroke="#444" stroke-width="1.1" />
<line x1="60.4" y1="481.3" x2="62.6" y2="481.3" stroke="#444" stroke-width="1" />
<text x="55.3" y="484.5" font-size="9.2" class="r" text-anchor="end" fill="#222" textLength="5.68" lengthAdjust="spacingAndGlyphs">0</text>
<line x1="60.4" y1="458.27" x2="62.6" y2="458.27" stroke="#444" stroke-width="1" />
<text x="55.3" y="461.47" font-size="9.2" class="r" text-anchor="end" fill="#222" textLength="15.38" lengthAdjust="spacingAndGlyphs">200</text>
<line x1="60.4" y1="435.23" x2="62.6" y2="435.23" stroke="#444" stroke-width="1" />
<text x="55.3" y="438.43" font-size="9.2" class="r" text-anchor="end" fill="#222" textLength="15.38" lengthAdjust="spacingAndGlyphs">400</text>
<line x1="60.4" y1="412.2" x2="62.6" y2="412.2" stroke="#444" stroke-width="1" />
<text x="55.3" y="415.4" font-size="9.2" class="r" text-anchor="end" fill="#222" textLength="15.38" lengthAdjust="spacingAndGlyphs">600</text>
<line x1="60.4" y1="389.16" x2="62.6" y2="389.16" stroke="#444" stroke-width="1" />
<text x="55.3" y="392.36" font-size="9.2" class="r" text-anchor="end" fill="#222" textLength="15.38" lengthAdjust="spacingAndGlyphs">800</text>
<line x1="60.4" y1="366.13" x2="62.6" y2="366.13" stroke="#444" stroke-width="1" />
<text x="55.3" y="369.33" font-size="9.2" class="r" text-anchor="end" fill="#222" textLength="20.23" lengthAdjust="spacingAndGlyphs">1000</text>
<line x1="60.4" y1="343.1" x2="62.6" y2="343.1" stroke="#444" stroke-width="1" />
<text x="55.3" y="346.3" font-size="9.2" class="r" text-anchor="end" fill="#222" textLength="20.23" lengthAdjust="spacingAndGlyphs">1200</text>
<line x1="62.9" y1="481.4" x2="62.9" y2="483.6" stroke="#444" stroke-width="1" />
<line x1="79.3" y1="481.4" x2="79.3" y2="483.6" stroke="#444" stroke-width="1" />
<line x1="95.7" y1="481.4" x2="95.7" y2="483.6" stroke="#444" stroke-width="1" />
<line x1="112.1" y1="481.4" x2="112.1" y2="483.6" stroke="#444" stroke-width="1" />
<line x1="128.5" y1="481.4" x2="128.5" y2="483.6" stroke="#444" stroke-width="1" />
<line x1="144.9" y1="481.4" x2="144.9" y2="483.6" stroke="#444" stroke-width="1" />
<line x1="161.3" y1="481.4" x2="161.3" y2="483.6" stroke="#444" stroke-width="1" />
<line x1="177.7" y1="481.4" x2="177.7" y2="483.6" stroke="#444" stroke-width="1" />
<line x1="194.1" y1="481.4" x2="194.1" y2="483.6" stroke="#444" stroke-width="1" />
<line x1="210.5" y1="481.4" x2="210.5" y2="483.6" stroke="#444" stroke-width="1" />
<line x1="226.9" y1="481.4" x2="226.9" y2="483.6" stroke="#444" stroke-width="1" />
<line x1="243.3" y1="481.4" x2="243.3" y2="483.6" stroke="#444" stroke-width="1" />
<text x="71.9" y="497" font-size="8.4" class="r" text-anchor="middle" fill="#333">0</text>
<text x="88.5" y="497" font-size="8.4" class="r" text-anchor="middle" fill="#333">4</text>
<text x="104.8" y="497" font-size="8.4" class="r" text-anchor="middle" fill="#333">8</text>
<text x="119.6" y="497" font-size="8.4" class="r" text-anchor="middle" fill="#333">12</text>
<text x="134" y="497" font-size="8.4" class="r" text-anchor="middle" fill="#333">16</text>
<text x="148" y="497" font-size="8.4" class="r" text-anchor="middle" fill="#333">20</text>
<text x="162.2" y="497" font-size="8.4" class="r" text-anchor="middle" fill="#333">24</text>
<text x="177" y="497" font-size="8.4" class="r" text-anchor="middle" fill="#333">28</text>
<text x="191.4" y="497" font-size="8.4" class="r" text-anchor="middle" fill="#333">32</text>
<text x="206.2" y="497" font-size="8.4" class="r" text-anchor="middle" fill="#333">36</text>
<text x="220" y="497" font-size="8.4" class="r" text-anchor="middle" fill="#333">40</text>
<text x="150.5" y="515.3" font-size="10.8" font-weight="bold" text-anchor="middle" textLength="126.07" lengthAdjust="spacingAndGlyphs">days post mAb injection</text>
<text x="27" y="405.3" font-size="11" font-weight="bold" text-anchor="middle" transform="rotate(-90 27 405.3)" textLength="107.8" lengthAdjust="spacingAndGlyphs">tumor volume (mm<tspan font-size="7.4" dy="-4">3</tspan><tspan dy="4">)</tspan></text>
<line x1="71.9" y1="469.7" x2="71.9" y2="475.7" stroke="#111" stroke-width="1.1" />
<line x1="68.3" y1="469.7" x2="75.5" y2="469.7" stroke="#111" stroke-width="1.3" />
<line x1="68.3" y1="475.7" x2="75.5" y2="475.7" stroke="#111" stroke-width="1.3" />
<line x1="88.27" y1="462.8" x2="88.27" y2="474.8" stroke="#111" stroke-width="1.1" />
<line x1="84.67" y1="462.8" x2="91.87" y2="462.8" stroke="#111" stroke-width="1.3" />
<line x1="84.67" y1="474.8" x2="91.87" y2="474.8" stroke="#111" stroke-width="1.3" />
<line x1="104.64" y1="457.5" x2="104.64" y2="471.5" stroke="#111" stroke-width="1.1" />
<line x1="101.04" y1="457.5" x2="108.24" y2="457.5" stroke="#111" stroke-width="1.3" />
<line x1="101.04" y1="471.5" x2="108.24" y2="471.5" stroke="#111" stroke-width="1.3" />
<line x1="121.01" y1="454" x2="121.01" y2="470" stroke="#111" stroke-width="1.1" />
<line x1="117.41" y1="454" x2="124.61" y2="454" stroke="#111" stroke-width="1.3" />
<line x1="117.41" y1="470" x2="124.61" y2="470" stroke="#111" stroke-width="1.3" />
<line x1="137.38" y1="451.3" x2="137.38" y2="465.3" stroke="#111" stroke-width="1.1" />
<line x1="133.78" y1="451.3" x2="140.98" y2="451.3" stroke="#111" stroke-width="1.3" />
<line x1="133.78" y1="465.3" x2="140.98" y2="465.3" stroke="#111" stroke-width="1.3" />
<line x1="153.75" y1="450.3" x2="153.75" y2="462.3" stroke="#111" stroke-width="1.1" />
<line x1="150.15" y1="450.3" x2="157.35" y2="450.3" stroke="#111" stroke-width="1.3" />
<line x1="150.15" y1="462.3" x2="157.35" y2="462.3" stroke="#111" stroke-width="1.3" />
<line x1="170.12" y1="446.3" x2="170.12" y2="460.3" stroke="#111" stroke-width="1.1" />
<line x1="166.52" y1="446.3" x2="173.72" y2="446.3" stroke="#111" stroke-width="1.3" />
<line x1="166.52" y1="460.3" x2="173.72" y2="460.3" stroke="#111" stroke-width="1.3" />
<line x1="186.49" y1="445.3" x2="186.49" y2="457.3" stroke="#111" stroke-width="1.1" />
<line x1="182.89" y1="445.3" x2="190.09" y2="445.3" stroke="#111" stroke-width="1.3" />
<line x1="182.89" y1="457.3" x2="190.09" y2="457.3" stroke="#111" stroke-width="1.3" />
<line x1="202.86" y1="443.3" x2="202.86" y2="455.3" stroke="#111" stroke-width="1.1" />
<line x1="199.26" y1="443.3" x2="206.46" y2="443.3" stroke="#111" stroke-width="1.3" />
<line x1="199.26" y1="455.3" x2="206.46" y2="455.3" stroke="#111" stroke-width="1.3" />
<line x1="219.23" y1="440.8" x2="219.23" y2="452.8" stroke="#111" stroke-width="1.1" />
<line x1="215.63" y1="440.8" x2="222.83" y2="440.8" stroke="#111" stroke-width="1.3" />
<line x1="215.63" y1="452.8" x2="222.83" y2="452.8" stroke="#111" stroke-width="1.3" />
<line x1="235.6" y1="438.5" x2="235.6" y2="450.5" stroke="#111" stroke-width="1.1" />
<line x1="232" y1="438.5" x2="239.2" y2="438.5" stroke="#111" stroke-width="1.3" />
<line x1="232" y1="450.5" x2="239.2" y2="450.5" stroke="#111" stroke-width="1.3" />
<line x1="71.9" y1="469.7" x2="71.9" y2="475.7" stroke="#111" stroke-width="1.1" />
<line x1="68.3" y1="469.7" x2="75.5" y2="469.7" stroke="#111" stroke-width="1.3" />
<line x1="68.3" y1="475.7" x2="75.5" y2="475.7" stroke="#111" stroke-width="1.3" />
<line x1="88.27" y1="462.8" x2="88.27" y2="474.8" stroke="#111" stroke-width="1.1" />
<line x1="84.67" y1="462.8" x2="91.87" y2="462.8" stroke="#111" stroke-width="1.3" />
<line x1="84.67" y1="474.8" x2="91.87" y2="474.8" stroke="#111" stroke-width="1.3" />
<line x1="104.64" y1="458.5" x2="104.64" y2="470.5" stroke="#111" stroke-width="1.1" />
<line x1="101.04" y1="458.5" x2="108.24" y2="458.5" stroke="#111" stroke-width="1.3" />
<line x1="101.04" y1="470.5" x2="108.24" y2="470.5" stroke="#111" stroke-width="1.3" />
<line x1="121.01" y1="451.2" x2="121.01" y2="467.2" stroke="#111" stroke-width="1.1" />
<line x1="117.41" y1="451.2" x2="124.61" y2="451.2" stroke="#111" stroke-width="1.3" />
<line x1="117.41" y1="467.2" x2="124.61" y2="467.2" stroke="#111" stroke-width="1.3" />
<line x1="137.38" y1="443.5" x2="137.38" y2="455.5" stroke="#111" stroke-width="1.1" />
<line x1="133.78" y1="443.5" x2="140.98" y2="443.5" stroke="#111" stroke-width="1.3" />
<line x1="133.78" y1="455.5" x2="140.98" y2="455.5" stroke="#111" stroke-width="1.3" />
<line x1="153.75" y1="437" x2="153.75" y2="449" stroke="#111" stroke-width="1.1" />
<line x1="150.15" y1="437" x2="157.35" y2="437" stroke="#111" stroke-width="1.3" />
<line x1="150.15" y1="449" x2="157.35" y2="449" stroke="#111" stroke-width="1.3" />
<line x1="170.12" y1="427.5" x2="170.12" y2="441.5" stroke="#111" stroke-width="1.1" />
<line x1="166.52" y1="427.5" x2="173.72" y2="427.5" stroke="#111" stroke-width="1.3" />
<line x1="166.52" y1="441.5" x2="173.72" y2="441.5" stroke="#111" stroke-width="1.3" />
<line x1="186.49" y1="418.5" x2="186.49" y2="430.5" stroke="#111" stroke-width="1.1" />
<line x1="182.89" y1="418.5" x2="190.09" y2="418.5" stroke="#111" stroke-width="1.3" />
<line x1="182.89" y1="430.5" x2="190.09" y2="430.5" stroke="#111" stroke-width="1.3" />
<line x1="202.86" y1="406.5" x2="202.86" y2="418.5" stroke="#111" stroke-width="1.1" />
<line x1="199.26" y1="406.5" x2="206.46" y2="406.5" stroke="#111" stroke-width="1.3" />
<line x1="199.26" y1="418.5" x2="206.46" y2="418.5" stroke="#111" stroke-width="1.3" />
<line x1="219.23" y1="381.3" x2="219.23" y2="391.3" stroke="#111" stroke-width="1.1" />
<line x1="215.63" y1="381.3" x2="222.83" y2="381.3" stroke="#111" stroke-width="1.3" />
<line x1="215.63" y1="391.3" x2="222.83" y2="391.3" stroke="#111" stroke-width="1.3" />
<line x1="235.6" y1="369" x2="235.6" y2="381" stroke="#111" stroke-width="1.1" />
<line x1="232" y1="369" x2="239.2" y2="369" stroke="#111" stroke-width="1.3" />
<line x1="232" y1="381" x2="239.2" y2="381" stroke="#111" stroke-width="1.3" />
<line x1="71.9" y1="469.7" x2="71.9" y2="475.7" stroke="#111" stroke-width="1.1" />
<line x1="68.3" y1="469.7" x2="75.5" y2="469.7" stroke="#111" stroke-width="1.3" />
<line x1="68.3" y1="475.7" x2="75.5" y2="475.7" stroke="#111" stroke-width="1.3" />
<line x1="88.27" y1="462.8" x2="88.27" y2="474.8" stroke="#111" stroke-width="1.1" />
<line x1="84.67" y1="462.8" x2="91.87" y2="462.8" stroke="#111" stroke-width="1.3" />
<line x1="84.67" y1="474.8" x2="91.87" y2="474.8" stroke="#111" stroke-width="1.3" />
<line x1="104.64" y1="458" x2="104.64" y2="470" stroke="#111" stroke-width="1.1" />
<line x1="101.04" y1="458" x2="108.24" y2="458" stroke="#111" stroke-width="1.3" />
<line x1="101.04" y1="470" x2="108.24" y2="470" stroke="#111" stroke-width="1.3" />
<line x1="121.01" y1="452" x2="121.01" y2="466" stroke="#111" stroke-width="1.1" />
<line x1="117.41" y1="452" x2="124.61" y2="452" stroke="#111" stroke-width="1.3" />
<line x1="117.41" y1="466" x2="124.61" y2="466" stroke="#111" stroke-width="1.3" />
<line x1="137.38" y1="443" x2="137.38" y2="455" stroke="#111" stroke-width="1.1" />
<line x1="133.78" y1="443" x2="140.98" y2="443" stroke="#111" stroke-width="1.3" />
<line x1="133.78" y1="455" x2="140.98" y2="455" stroke="#111" stroke-width="1.3" />
<line x1="153.75" y1="435.5" x2="153.75" y2="447.5" stroke="#111" stroke-width="1.1" />
<line x1="150.15" y1="435.5" x2="157.35" y2="435.5" stroke="#111" stroke-width="1.3" />
<line x1="150.15" y1="447.5" x2="157.35" y2="447.5" stroke="#111" stroke-width="1.3" />
<line x1="170.12" y1="426" x2="170.12" y2="440" stroke="#111" stroke-width="1.1" />
<line x1="166.52" y1="426" x2="173.72" y2="426" stroke="#111" stroke-width="1.3" />
<line x1="166.52" y1="440" x2="173.72" y2="440" stroke="#111" stroke-width="1.3" />
<line x1="186.49" y1="412.5" x2="186.49" y2="428.5" stroke="#111" stroke-width="1.1" />
<line x1="182.89" y1="412.5" x2="190.09" y2="412.5" stroke="#111" stroke-width="1.3" />
<line x1="182.89" y1="428.5" x2="190.09" y2="428.5" stroke="#111" stroke-width="1.3" />
<line x1="202.86" y1="400" x2="202.86" y2="416" stroke="#111" stroke-width="1.1" />
<line x1="199.26" y1="400" x2="206.46" y2="400" stroke="#111" stroke-width="1.3" />
<line x1="199.26" y1="416" x2="206.46" y2="416" stroke="#111" stroke-width="1.3" />
<line x1="219.23" y1="371.5" x2="219.23" y2="387.5" stroke="#111" stroke-width="1.1" />
<line x1="215.63" y1="371.5" x2="222.83" y2="371.5" stroke="#111" stroke-width="1.3" />
<line x1="215.63" y1="387.5" x2="222.83" y2="387.5" stroke="#111" stroke-width="1.3" />
<line x1="235.6" y1="353.3" x2="235.6" y2="379.3" stroke="#111" stroke-width="1.1" />
<line x1="232" y1="353.3" x2="239.2" y2="353.3" stroke="#111" stroke-width="1.3" />
<line x1="232" y1="379.3" x2="239.2" y2="379.3" stroke="#111" stroke-width="1.3" />
<polyline points="71.9,472.7 88.27,468.8 104.64,464.5 121.01,462 137.38,458.3 153.75,456.3 170.12,453.3 186.49,451.3 202.86,449.3 219.23,446.8 235.6,444.5" fill="none" stroke="#000" stroke-width="1.6" />
<polyline points="71.9,472.7 88.27,468.8 104.64,464.5 121.01,459.2 137.38,449.5 153.75,443 170.12,434.5 186.49,424.5 202.86,412.5 219.23,386.3 235.6,375" fill="none" stroke="#000" stroke-width="1.5" />
<polyline points="71.9,472.7 88.27,468.8 104.64,464 121.01,459 137.38,449 153.75,441.5 170.12,433 186.49,420.5 202.86,408 219.23,379.5 235.6,366.3" fill="none" stroke="#000" stroke-width="1.5" />
<rect x="68.5" y="469.3" width="6.8" height="6.8" fill="#000" stroke="none" stroke-width="1" />
<rect x="84.87" y="465.4" width="6.8" height="6.8" fill="#000" stroke="none" stroke-width="1" />
<rect x="101.24" y="461.1" width="6.8" height="6.8" fill="#000" stroke="none" stroke-width="1" />
<rect x="117.61" y="458.6" width="6.8" height="6.8" fill="#000" stroke="none" stroke-width="1" />
<rect x="133.98" y="454.9" width="6.8" height="6.8" fill="#000" stroke="none" stroke-width="1" />
<rect x="150.35" y="452.9" width="6.8" height="6.8" fill="#000" stroke="none" stroke-width="1" />
<rect x="166.72" y="449.9" width="6.8" height="6.8" fill="#000" stroke="none" stroke-width="1" />
<rect x="183.09" y="447.9" width="6.8" height="6.8" fill="#000" stroke="none" stroke-width="1" />
<rect x="199.46" y="445.9" width="6.8" height="6.8" fill="#000" stroke="none" stroke-width="1" />
<rect x="215.83" y="443.4" width="6.8" height="6.8" fill="#000" stroke="none" stroke-width="1" />
<rect x="232.2" y="441.1" width="6.8" height="6.8" fill="#000" stroke="none" stroke-width="1" />
<circle cx="186.49" cy="420.5" r="3.3" fill="#fff" stroke="#000" stroke-width="1.1"/>
<circle cx="202.86" cy="408" r="3.3" fill="#fff" stroke="#000" stroke-width="1.1"/>
<circle cx="219.23" cy="379.5" r="3.3" fill="#fff" stroke="#000" stroke-width="1.1"/>
<circle cx="235.6" cy="366.3" r="3.3" fill="#fff" stroke="#000" stroke-width="1.1"/>
<circle cx="71.9" cy="472.7" r="3.6" fill="#000"/>
<circle cx="88.27" cy="468.8" r="3.6" fill="#000"/>
<circle cx="104.64" cy="464.5" r="3.6" fill="#000"/>
<circle cx="121.01" cy="459.2" r="3.6" fill="#000"/>
<circle cx="137.38" cy="449.5" r="3.6" fill="#000"/>
<circle cx="153.75" cy="443" r="3.6" fill="#000"/>
<circle cx="170.12" cy="434.5" r="3.6" fill="#000"/>
<circle cx="186.49" cy="424.5" r="3.6" fill="#000"/>
<circle cx="202.86" cy="412.5" r="3.6" fill="#000"/>
<circle cx="219.23" cy="386.3" r="3.6" fill="#000"/>
<circle cx="235.6" cy="375" r="3.6" fill="#000"/>
<line x1="73.5" y1="410.4" x2="100.4" y2="410.4" stroke="#222" stroke-width="1.3" />
<circle cx="87.3" cy="410.4" r="3.4" fill="#fff" stroke="#111" stroke-width="1.1"/>
<text x="101.9" y="413.4" font-size="9.2" class="r" fill="#222" textLength="18.93" lengthAdjust="spacingAndGlyphs">med</text>
<line x1="73.5" y1="424.8" x2="100.4" y2="424.8" stroke="#222" stroke-width="1.3" />
<rect x="83.7" y="421.2" width="7.2" height="7.2" fill="#000" stroke="none" stroke-width="1" />
<text x="101.9" y="428" font-size="9.2" class="r" fill="#222" textLength="49.33" lengthAdjust="spacingAndGlyphs">CD26mAb</text>
<line x1="73.5" y1="439.6" x2="100.4" y2="439.6" stroke="#222" stroke-width="1.3" />
<circle cx="87.3" cy="439.6" r="3.8" fill="#000"/>
<text x="101.9" y="442.6" font-size="9.2" class="r" fill="#222" textLength="12.73" lengthAdjust="spacingAndGlyphs">iso</text>
<rect x="79.3" y="364.6" width="37.2" height="21.4" fill="#c9c9c9" stroke="#111" stroke-width="1.3" />
<rect x="96.5" y="365.3" width="1.5" height="20" fill="#d6d6d6" stroke="none" stroke-width="1" />
<g filter="url(#blur1)">
<rect x="81.2" y="375" width="15.2" height="2.9" fill="#111" stroke="none" stroke-width="1" />
<rect x="98.4" y="375" width="15.2" height="2.9" fill="#111" stroke="none" stroke-width="1" />
</g>
<line x1="117" y1="376.5" x2="119.4" y2="376.5" stroke="#000" stroke-width="1.5" />
<text x="124" y="380.3" font-size="8.6" font-weight="bold" textLength="21.37" lengthAdjust="spacingAndGlyphs">CD26</text>
<text x="91.3" y="352.8" font-size="8.8" font-weight="bold" text-anchor="middle" textLength="18.99" lengthAdjust="spacingAndGlyphs" transform="rotate(-90 91.3 352.8)">vitro</text>
<text x="109.5" y="351.4" font-size="8.8" font-weight="bold" text-anchor="middle" textLength="19.59" lengthAdjust="spacingAndGlyphs" transform="rotate(-90 109.5 351.4)">xeno</text>
<rect x="319.5" y="332.8" width="181.6" height="148.4" fill="none" stroke="#111" stroke-width="1.6" />
<line x1="316.2" y1="476" x2="319.5" y2="476" stroke="#111" stroke-width="1.1" />
<text x="314.2" y="475.2" font-size="8" class="r" text-anchor="middle" fill="#222" transform="rotate(-90 314.2 475.2)">0.0</text>
<line x1="316.2" y1="448.48" x2="319.5" y2="448.48" stroke="#111" stroke-width="1.1" />
<text x="314.2" y="447.68" font-size="8" class="r" text-anchor="middle" fill="#222" transform="rotate(-90 314.2 447.68)">0.2</text>
<line x1="316.2" y1="420.96" x2="319.5" y2="420.96" stroke="#111" stroke-width="1.1" />
<text x="314.2" y="420.16" font-size="8" class="r" text-anchor="middle" fill="#222" transform="rotate(-90 314.2 420.16)">0.4</text>
<line x1="316.2" y1="393.44" x2="319.5" y2="393.44" stroke="#111" stroke-width="1.1" />
<text x="314.2" y="392.64" font-size="8" class="r" text-anchor="middle" fill="#222" transform="rotate(-90 314.2 392.64)">0.6</text>
<line x1="316.2" y1="365.92" x2="319.5" y2="365.92" stroke="#111" stroke-width="1.1" />
<text x="314.2" y="365.12" font-size="8" class="r" text-anchor="middle" fill="#222" transform="rotate(-90 314.2 365.12)">0.8</text>
<line x1="316.2" y1="338.4" x2="319.5" y2="338.4" stroke="#111" stroke-width="1.1" />
<text x="314.2" y="337.6" font-size="8" class="r" text-anchor="middle" fill="#222" transform="rotate(-90 314.2 337.6)">1.0</text>
<line x1="326.3" y1="481.2" x2="326.3" y2="485.5" stroke="#111" stroke-width="1.1" />
<text x="326.3" y="497.3" font-size="7.6" class="r" text-anchor="middle" fill="#222">0</text>
<line x1="350.05" y1="481.2" x2="350.05" y2="485.5" stroke="#111" stroke-width="1.1" />
<text x="350.05" y="497.3" font-size="7.6" class="r" text-anchor="middle" fill="#222">20</text>
<line x1="373.79" y1="481.2" x2="373.79" y2="485.5" stroke="#111" stroke-width="1.1" />
<text x="373.79" y="497.3" font-size="7.6" class="r" text-anchor="middle" fill="#222">40</text>
<line x1="397.54" y1="481.2" x2="397.54" y2="485.5" stroke="#111" stroke-width="1.1" />
<text x="397.54" y="497.3" font-size="7.6" class="r" text-anchor="middle" fill="#222">60</text>
<line x1="421.28" y1="481.2" x2="421.28" y2="485.5" stroke="#111" stroke-width="1.1" />
<text x="421.28" y="497.3" font-size="7.6" class="r" text-anchor="middle" fill="#222">80</text>
<line x1="445.03" y1="481.2" x2="445.03" y2="485.5" stroke="#111" stroke-width="1.1" />
<text x="445.03" y="497.3" font-size="7.6" class="r" text-anchor="middle" fill="#222">100</text>
<line x1="468.78" y1="481.2" x2="468.78" y2="485.5" stroke="#111" stroke-width="1.1" />
<text x="468.78" y="497.3" font-size="7.6" class="r" text-anchor="middle" fill="#222">120</text>
<line x1="492.52" y1="481.2" x2="492.52" y2="485.5" stroke="#111" stroke-width="1.1" />
<text x="492.52" y="497.3" font-size="7.6" class="r" text-anchor="middle" fill="#222">140</text>
<text x="411.8" y="511.4" font-size="10.9" font-weight="bold" text-anchor="middle" textLength="127.38" lengthAdjust="spacingAndGlyphs">days post mAb injection</text>
<text x="283.1" y="407.1" font-size="12" font-weight="bold" text-anchor="middle" textLength="102.68" lengthAdjust="spacingAndGlyphs" transform="rotate(-90 283.1 407.1)">cumulative survival</text>
<text x="299.6" y="406.5" font-size="9" class="r" text-anchor="middle" fill="#333" transform="rotate(-90 299.6 406.5)">P</text>
<polyline points="326.3,338.4 467.7,338.4 467.7,365.92 474.5,365.92 474.5,393.44 494.6,393.44" fill="none" stroke="#111" stroke-width="1.6" />
<circle cx="326.3" cy="338.4" r="1.6" fill="#000"/>
<circle cx="467.7" cy="365.92" r="1.6" fill="#000"/>
<circle cx="474.5" cy="393.44" r="1.6" fill="#000"/>
<circle cx="494.6" cy="393.44" r="1.6" fill="#000"/>
<polyline points="442.3,338.4 442.3,393.44 456.5,393.44 456.5,420.96 487.2,420.96 487.2,448.48 494.6,448.48 494.6,476" fill="none" stroke="#222" stroke-width="1.4" stroke-dasharray="3,1.2,1,1.2"/>
<polyline points="444.6,338.4 444.6,365.92 451.2,365.92 451.2,393.44 456.5,393.44" fill="none" stroke="#222" stroke-width="1.3" stroke-dasharray="1.1,0.9"/>
<circle cx="441.8" cy="365.92" r="1.4" fill="#000"/>
<circle cx="444.3" cy="393.44" r="1.4" fill="#000"/>
<circle cx="456.5" cy="420.96" r="1.4" fill="#000"/>
<circle cx="487.2" cy="448.48" r="1.4" fill="#000"/>
<circle cx="494.6" cy="476" r="1" fill="#000"/>
<line x1="330.4" y1="380.4" x2="384.2" y2="380.4" stroke="#000" stroke-width="1.4" stroke-dasharray="1.1,1.1"/>
<circle cx="357.4" cy="380.4" r="3.6" fill="none" stroke="#333" stroke-width="1" stroke-dasharray="1.1,0.9"/>
<line x1="330.4" y1="404.2" x2="384.2" y2="404.2" stroke="#111" stroke-width="1.5" />
<circle cx="357.4" cy="404.2" r="3.5" fill="none" stroke="#111" stroke-width="1.2"/>
<line x1="330.4" y1="427.3" x2="384.2" y2="427.3" stroke="#111" stroke-width="1.5" stroke-dasharray="4.3,4.4,1.2,4.4"/>
<path d="M354.2,426.2 a3.4,3.4 0 0 1 6.2,-0.6 M356.6,428.2 l0.6,3 M359.2,427.6 l2.6,-0.2" fill="none" stroke="#222" stroke-width="1.2"/>
<text x="418.2" y="384.3" font-size="8.4" font-weight="bold" text-anchor="middle" fill="#111">med</text>
<text x="399.7" y="408.3" font-size="8.4" font-weight="bold" fill="#111" textLength="40.06" lengthAdjust="spacingAndGlyphs">CD26mAb</text>
<text x="418.2" y="431.5" font-size="8.4" font-weight="bold" text-anchor="middle" fill="#111">iso</text>
<text x="17.8" y="543.8" font-size="13.4" font-weight="bold">D</text>
<text x="206.7" y="541.5" font-size="11.2" font-weight="bold" text-anchor="middle">mice</text>
<line x1="112.4" y1="552.2" x2="296.3" y2="552.2" stroke="#000" stroke-width="2.2" />
<text x="133.3" y="571.1" font-size="10.6" font-weight="bold" text-anchor="middle">R’</text>
<line x1="116" y1="581.1" x2="146.3" y2="581.1" stroke="#000" stroke-width="2" />
<text x="165.8" y="571.1" font-size="10.6" font-weight="bold" text-anchor="middle">RR</text>
<line x1="153.7" y1="581.1" x2="184.3" y2="581.1" stroke="#000" stroke-width="2" />
<text x="204.9" y="571.1" font-size="10.6" font-weight="bold" text-anchor="middle">RL</text>
<line x1="190.7" y1="581.1" x2="221" y2="581.1" stroke="#000" stroke-width="2" />
<text x="244.9" y="571.1" font-size="10.6" font-weight="bold" text-anchor="middle">RL’</text>
<line x1="230.5" y1="581.1" x2="260.8" y2="581.1" stroke="#000" stroke-width="2" />
<text x="284.2" y="571.1" font-size="10.6" font-weight="bold" text-anchor="middle">LL</text>
<line x1="268.2" y1="581.1" x2="297.8" y2="581.1" stroke="#000" stroke-width="2" />
<text x="120.5" y="602" font-size="7.8" font-weight="bold" text-anchor="middle" textLength="17.7" lengthAdjust="spacingAndGlyphs" transform="rotate(-90 120.5 602)">med</text>
<text x="135.8" y="602" font-size="7.8" font-weight="bold" text-anchor="middle" textLength="37.7" lengthAdjust="spacingAndGlyphs" transform="rotate(-90 135.8 602)">CD26mAb</text>
<text x="146.3" y="602" font-size="7.8" font-weight="bold" text-anchor="middle" textLength="12.3" lengthAdjust="spacingAndGlyphs" transform="rotate(-90 146.3 602)">iso</text>
<text x="160.6" y="602" font-size="7.8" font-weight="bold" text-anchor="middle" textLength="17.7" lengthAdjust="spacingAndGlyphs" transform="rotate(-90 160.6 602)">med</text>
<text x="173.9" y="602" font-size="7.8" font-weight="bold" text-anchor="middle" textLength="37.7" lengthAdjust="spacingAndGlyphs" transform="rotate(-90 173.9 602)">CD26mAb</text>
<text x="186.4" y="602" font-size="7.8" font-weight="bold" text-anchor="middle" textLength="12.3" lengthAdjust="spacingAndGlyphs" transform="rotate(-90 186.4 602)">iso</text>
<text x="198.7" y="602" font-size="7.8" font-weight="bold" text-anchor="middle" textLength="17.7" lengthAdjust="spacingAndGlyphs" transform="rotate(-90 198.7 602)">med</text>
<text x="212" y="602" font-size="7.8" font-weight="bold" text-anchor="middle" textLength="37.7" lengthAdjust="spacingAndGlyphs" transform="rotate(-90 212 602)">CD26mAb</text>
<text x="225.2" y="602" font-size="7.8" font-weight="bold" text-anchor="middle" textLength="12.3" lengthAdjust="spacingAndGlyphs" transform="rotate(-90 225.2 602)">iso</text>
<text x="238.2" y="602" font-size="7.8" font-weight="bold" text-anchor="middle" textLength="17.7" lengthAdjust="spacingAndGlyphs" transform="rotate(-90 238.2 602)">med</text>
<text x="253.5" y="602" font-size="7.8" font-weight="bold" text-anchor="middle" textLength="37.7" lengthAdjust="spacingAndGlyphs" transform="rotate(-90 253.5 602)">CD26mAb</text>
<text x="264" y="602" font-size="7.8" font-weight="bold" text-anchor="middle" textLength="12.3" lengthAdjust="spacingAndGlyphs" transform="rotate(-90 264 602)">iso</text>
<text x="276.2" y="602" font-size="7.8" font-weight="bold" text-anchor="middle" textLength="17.7" lengthAdjust="spacingAndGlyphs" transform="rotate(-90 276.2 602)">med</text>
<text x="290.5" y="602" font-size="7.8" font-weight="bold" text-anchor="middle" textLength="37.7" lengthAdjust="spacingAndGlyphs" transform="rotate(-90 290.5 602)">CD26mAb</text>
<text x="301" y="602" font-size="7.8" font-weight="bold" text-anchor="middle" textLength="12.3" lengthAdjust="spacingAndGlyphs" transform="rotate(-90 301 602)">iso</text>
<path d="M108.5,625.7 L306.9,625.7 L306.9,652.2 L108.5,652.2 Z" fill="#f1f1f1" stroke="none"/>
<g filter="url(#blur1)">
<rect x="113.2" y="639.3" width="11.6" height="2.7" rx="1.3" fill="#939393"/>
<rect x="125.9" y="639.3" width="11.6" height="2.7" rx="1.3" fill="#000000"/>
<rect x="138.8" y="639.3" width="11.6" height="2.7" rx="1.3" fill="#9e9e9e"/>
<rect x="151.5" y="639.3" width="11.6" height="2.7" rx="1.3" fill="#939393"/>
<rect x="164" y="639.3" width="11.6" height="2.7" rx="1.3" fill="#191919"/>
<rect x="177.4" y="639.3" width="11.6" height="2.7" rx="1.3" fill="#a3a3a3"/>
<rect x="190.5" y="639.3" width="11.6" height="2.7" rx="1.3" fill="#727272"/>
<rect x="202.5" y="639.3" width="11.6" height="2.7" rx="1.3" fill="#000000"/>
<rect x="215" y="639.3" width="11.6" height="2.7" rx="1.3" fill="#999999"/>
<rect x="227.5" y="639.3" width="11.6" height="2.7" rx="1.3" fill="#848484"/>
<rect x="240.7" y="639.3" width="11.6" height="2.7" rx="1.3" fill="#050505"/>
<rect x="253" y="639.3" width="11.6" height="2.7" rx="1.3" fill="#a3a3a3"/>
<rect x="266.1" y="639.3" width="11.6" height="2.7" rx="1.3" fill="#7a7a7a"/>
<rect x="278.8" y="639.3" width="11.6" height="2.7" rx="1.3" fill="#3f3f3f"/>
<rect x="291.8" y="639.3" width="11.6" height="2.7" rx="1.3" fill="#8c8c8c"/>
</g>
<path d="M108.5,625.7 L306.9,625.7 L306.9,652.2 L108.5,652.2 Z" fill="none" stroke="#111" stroke-width="1.3"/>
<path d="M108.5,657.7 L308.1,657.7 L308.1,694.3 L108.5,694.3 Z" fill="#d9d9d9" stroke="none"/>
<g filter="url(#blur1)">
<rect x="113.7" y="673.2" width="10.6" height="2.8" rx="1.2" fill="#1e1e1e"/>
<rect x="126.4" y="673.2" width="10.6" height="2.8" rx="1.2" fill="#a8a8a8"/>
<rect x="139.3" y="673.2" width="10.6" height="2.8" rx="1.2" fill="#282828"/>
<rect x="152" y="673.2" width="10.6" height="2.8" rx="1.2" fill="#282828"/>
<rect x="164.5" y="673.2" width="10.6" height="2.8" rx="1.2" fill="#b7b7b7"/>
<rect x="177.9" y="673.2" width="10.6" height="2.8" rx="1.2" fill="#515151"/>
<rect x="191" y="673.2" width="10.6" height="2.8" rx="1.2" fill="#515151"/>
<rect x="203" y="673.2" width="10.6" height="2.8" rx="1.2" fill="#a3a3a3"/>
<rect x="215.5" y="673.2" width="10.6" height="2.8" rx="1.2" fill="#4c4c4c"/>
<rect x="228" y="673.2" width="10.6" height="2.8" rx="1.2" fill="#4c4c4c"/>
<rect x="241.2" y="673.2" width="10.6" height="2.8" rx="1.2" fill="#b2b2b2"/>
<rect x="253.5" y="673.2" width="10.6" height="2.8" rx="1.2" fill="#474747"/>
<rect x="266.6" y="673.2" width="10.6" height="2.8" rx="1.2" fill="#424242"/>
<rect x="279.3" y="673.2" width="10.6" height="2.8" rx="1.2" fill="#a3a3a3"/>
<rect x="292.3" y="673.2" width="10.6" height="2.8" rx="1.2" fill="#474747"/>
</g>
<path d="M108.5,657.7 L308.1,657.7 L308.1,694.3 L108.5,694.3 Z" fill="none" stroke="#111" stroke-width="1.3"/>
<path d="M109.5,700.8 L309.2,700.8 L309.2,737 L109.5,737 Z" fill="#e6e6e6" stroke="none"/>
<g filter="url(#blur1)">
<rect x="112.3" y="716.7" width="13.4" height="5.2" rx="2.6" fill="#000"/>
<rect x="125" y="716.56" width="13.4" height="5.2" rx="2.6" fill="#000"/>
<rect x="137.9" y="716.43" width="13.4" height="5.2" rx="2.6" fill="#000"/>
<rect x="150.6" y="716.29" width="13.4" height="5.2" rx="2.6" fill="#000"/>
<rect x="163.1" y="716.16" width="13.4" height="5.2" rx="2.6" fill="#000"/>
<rect x="176.5" y="716.02" width="13.4" height="5.2" rx="2.6" fill="#000"/>
<rect x="189.6" y="715.89" width="13.4" height="5.2" rx="2.6" fill="#000"/>
<rect x="201.6" y="715.75" width="13.4" height="5.2" rx="2.6" fill="#000"/>
<rect x="214.1" y="715.61" width="13.4" height="5.2" rx="2.6" fill="#000"/>
<rect x="226.6" y="715.48" width="13.4" height="5.2" rx="2.6" fill="#000"/>
<rect x="239.8" y="715.34" width="13.4" height="5.2" rx="2.6" fill="#000"/>
<rect x="252.1" y="715.21" width="13.4" height="5.2" rx="2.6" fill="#000"/>
<rect x="265.2" y="715.07" width="13.4" height="5.2" rx="2.6" fill="#000"/>
<rect x="277.9" y="714.94" width="13.4" height="5.2" rx="2.6" fill="#000"/>
<rect x="290.9" y="714.8" width="13.4" height="5.2" rx="2.6" fill="#000"/>
</g>
<path d="M109.5,700.8 L309.2,700.8 L309.2,737 L109.5,737 Z" fill="none" stroke="#111" stroke-width="1.3"/>
<line x1="308.6" y1="639.5" x2="314.5" y2="639.5" stroke="#000" stroke-width="1.6" />
<line x1="309.2" y1="675.4" x2="316" y2="675.4" stroke="#000" stroke-width="1.6" />
<line x1="309.6" y1="717.7" x2="317" y2="717.7" stroke="#000" stroke-width="1.6" />
<text x="322.3" y="643.3" font-size="10.6" font-weight="bold">p27<tspan font-size="6.6" dx="0.6" dy="-2.6">kip1</tspan></text>
<text x="323.4" y="679.1" font-size="10.6" font-weight="bold">Akt -</text>
<circle cx="366.8" cy="676" r="9.9" fill="none" stroke="#111" stroke-width="1.1"/>
<text x="367.2" y="679.2" font-size="10.5" font-weight="bold" text-anchor="middle" font-style="italic">P</text>
<text x="323.8" y="721.6" font-size="10.8" font-weight="bold" textLength="32.97" lengthAdjust="spacingAndGlyphs">βactin</text>
<defs><pattern id="p0" patternUnits="userSpaceOnUse" x="94.2" y="65.4" width="8.3" height="8.3"><rect x="-0.6" y="-0.6" width="1.3" height="1.3" fill="#222"/><rect x="3.55" y="3.55" width="1.3" height="1.3" fill="#222"/><rect x="7.7" y="-0.6" width="1.3" height="1.3" fill="#222"/><rect x="-0.6" y="7.7" width="1.3" height="1.3" fill="#222"/></pattern><pattern id="p1" patternUnits="userSpaceOnUse" x="138.4" y="69.4" width="8.3" height="8.3"><rect x="0" y="-0.65" width="4" height="1.3" fill="#111"/><rect x="4.15" y="3.5" width="4" height="1.3" fill="#111"/><rect x="0" y="7.65" width="4" height="1.3" fill="#111"/></pattern><pattern id="p2" patternUnits="userSpaceOnUse" x="181" y="86" width="8.3" height="8.3"><path d="M0,0 H8.3 M0,4.15 H8.3 M0,8.3 H8.3 M0,0 V4.15 M4.15,4.15 V8.3 M8.3,0 V4.15" stroke="#111" stroke-width="1.25" fill="none"/></pattern><pattern id="p3" patternUnits="userSpaceOnUse" x="220.9" y="101.1" width="8.3" height="8.3"><path d="M0,0 L8.3,8.3 M8.3,0 L0,8.3 M-1,-1 L1,1 M7.3,7.3 L9.3,9.3 M9.3,-1 L7.3,1 M-1,9.3 L1,7.3" stroke="#1a1a1a" stroke-width="1.0" fill="none"/></pattern><pattern id="p4" patternUnits="userSpaceOnUse" x="94.1" y="152.4" width="8.3" height="8.3"><rect x="-0.6" y="-0.6" width="1.3" height="1.3" fill="#222"/><rect x="3.55" y="3.55" width="1.3" height="1.3" fill="#222"/><rect x="7.7" y="-0.6" width="1.3" height="1.3" fill="#222"/><rect x="-0.6" y="7.7" width="1.3" height="1.3" fill="#222"/></pattern><pattern id="p5" patternUnits="userSpaceOnUse" x="141.3" y="152.8" width="8.3" height="8.3"><rect x="0" y="-0.65" width="4" height="1.3" fill="#111"/><rect x="4.15" y="3.5" width="4" height="1.3" fill="#111"/><rect x="0" y="7.65" width="4" height="1.3" fill="#111"/></pattern><pattern id="p6" patternUnits="userSpaceOnUse" x="184.6" y="171.7" width="8.3" height="8.3"><path d="M0,0 H8.3 M0,4.15 H8.3 M0,8.3 H8.3 M0,0 V4.15 M4.15,4.15 V8.3 M8.3,0 V4.15" stroke="#111" stroke-width="1.25" fill="none"/></pattern><pattern id="p7" patternUnits="userSpaceOnUse" x="227.6" y="193.4" width="8.3" height="8.3"><path d="M0,0 L8.3,8.3 M8.3,0 L0,8.3 M-1,-1 L1,1 M7.3,7.3 L9.3,9.3 M9.3,-1 L7.3,1 M-1,9.3 L1,7.3" stroke="#1a1a1a" stroke-width="1.0" fill="none"/></pattern><pattern id="p8" patternUnits="userSpaceOnUse" x="96.6" y="296.9" width="8.3" height="8.3"><rect x="-0.6" y="-0.6" width="1.3" height="1.3" fill="#222"/><rect x="3.55" y="3.55" width="1.3" height="1.3" fill="#222"/><rect x="7.7" y="-0.6" width="1.3" height="1.3" fill="#222"/><rect x="-0.6" y="7.7" width="1.3" height="1.3" fill="#222"/></pattern><pattern id="p9" patternUnits="userSpaceOnUse" x="143.7" y="299.6" width="8.3" height="8.3"><rect x="0" y="-0.65" width="4" height="1.3" fill="#111"/><rect x="4.15" y="3.5" width="4" height="1.3" fill="#111"/><rect x="0" y="7.65" width="4" height="1.3" fill="#111"/></pattern><pattern id="p10" patternUnits="userSpaceOnUse" x="189" y="300" width="8.3" height="8.3"><path d="M0,0 H8.3 M0,4.15 H8.3 M0,8.3 H8.3 M0,0 V4.15 M4.15,4.15 V8.3 M8.3,0 V4.15" stroke="#111" stroke-width="1.25" fill="none"/></pattern><pattern id="p11" patternUnits="userSpaceOnUse" x="233.8" y="301.8" width="8.3" height="8.3"><path d="M0,0 L8.3,8.3 M8.3,0 L0,8.3 M-1,-1 L1,1 M7.3,7.3 L9.3,9.3 M9.3,-1 L7.3,1 M-1,9.3 L1,7.3" stroke="#1a1a1a" stroke-width="1.0" fill="none"/></pattern><pattern id="p12" patternUnits="userSpaceOnUse" x="293.1" y="73.6" width="8.3" height="8.3"><rect x="-0.6" y="-0.6" width="1.3" height="1.3" fill="#222"/><rect x="3.55" y="3.55" width="1.3" height="1.3" fill="#222"/><rect x="7.7" y="-0.6" width="1.3" height="1.3" fill="#222"/><rect x="-0.6" y="7.7" width="1.3" height="1.3" fill="#222"/></pattern><pattern id="p13" patternUnits="userSpaceOnUse" x="289.1" y="127.4" width="8.3" height="8.3"><rect x="0" y="-0.65" width="4" height="1.3" fill="#111"/><rect x="4.15" y="3.5" width="4" height="1.3" fill="#111"/><rect x="0" y="7.65" width="4" height="1.3" fill="#111"/></pattern><pattern id="p14" patternUnits="userSpaceOnUse" x="293.5" y="181.6" width="8.3" height="8.3"><path d="M0,0 H8.3 M0,4.15 H8.3 M0,8.3 H8.3 M0,0 V4.15 M4.15,4.15 V8.3 M8.3,0 V4.15" stroke="#111" stroke-width="1.25" fill="none"/></pattern><pattern id="p15" patternUnits="userSpaceOnUse" x="287.7" y="243.1" width="8.3" height="8.3"><path d="M0,0 L8.3,8.3 M8.3,0 L0,8.3 M-1,-1 L1,1 M7.3,7.3 L9.3,9.3 M9.3,-1 L7.3,1 M-1,9.3 L1,7.3" stroke="#1a1a1a" stroke-width="1.0" fill="none"/></pattern></defs>
<rect x="0.5" y="0.5" width="519" height="755" fill="none" stroke="#111" stroke-width="1.4"/>
</svg>
</body></html>
